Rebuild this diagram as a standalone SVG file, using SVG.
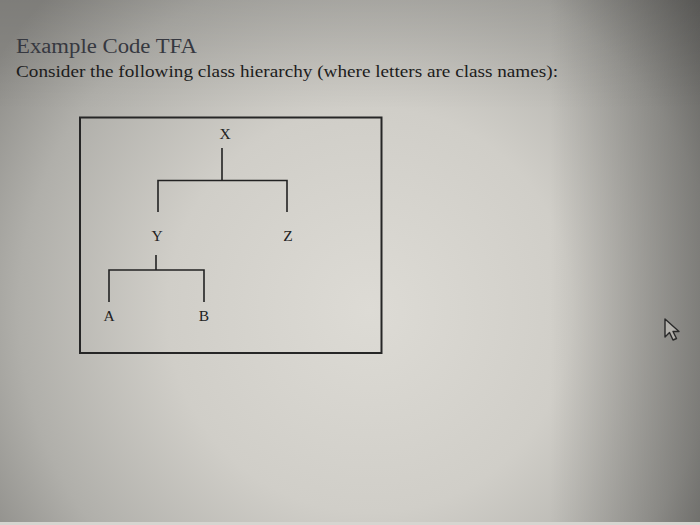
<svg xmlns="http://www.w3.org/2000/svg" width="700" height="525" viewBox="0 0 700 525">
  <defs>
    <radialGradient id="bg" gradientUnits="userSpaceOnUse" cx="370" cy="310" r="450">
      <stop offset="0" stop-color="#dddbd5"/>
      <stop offset="0.45" stop-color="#d0cec8"/>
      <stop offset="0.78" stop-color="#b0afaa"/>
      <stop offset="1" stop-color="#8c8b87"/>
    </radialGradient>
    <linearGradient id="right" gradientUnits="userSpaceOnUse" x1="550" y1="0" x2="700" y2="0">
      <stop offset="0" stop-color="#000" stop-opacity="0"/>
      <stop offset="1" stop-color="#000" stop-opacity="0.3"/>
    </linearGradient>
    <linearGradient id="top" gradientUnits="userSpaceOnUse" x1="0" y1="0" x2="0" y2="110">
      <stop offset="0" stop-color="#000" stop-opacity="0.1"/>
      <stop offset="1" stop-color="#000" stop-opacity="0"/>
    </linearGradient>
    <style>
      .title { font-family: "Liberation Serif", "DejaVu Serif", serif; font-size: 20px; fill: #363840; }
      .sub { font-family: "Liberation Serif", "Times New Roman", serif; font-size: 16.5px; fill: #1c1c1c; }
      .lbl { font-family: "Liberation Serif", "Times New Roman", serif; font-size: 15.5px; fill: #222; text-anchor: middle; }
      .edge { fill: none; stroke: #222; stroke-width: 1.6; }
      .frame { fill: none; stroke: #262626; stroke-width: 2; }
    </style>
  </defs>

  <rect x="0" y="0" width="700" height="525" fill="url(#bg)"/>
  <rect x="0" y="0" width="700" height="525" fill="url(#right)"/>
  <rect x="0" y="0" width="700" height="525" fill="url(#top)"/>
  <rect x="0" y="522" width="700" height="3" fill="#d6d5d0"/>

  <g id="heading">
    <text class="title" x="16" y="53" textLength="181" lengthAdjust="spacingAndGlyphs">Example Code TFA</text>
    <text class="sub" x="16" y="77" textLength="542" lengthAdjust="spacingAndGlyphs">Consider the following class hierarchy (where letters are class names):</text>
  </g>

  <rect id="frame" class="frame" x="80" y="117.5" width="301.5" height="235.5"/>

  <g id="connectors">
    <path class="edge" d="M222,148 V180.5 M158,212 V180.5 H287 V212"/>
    <path class="edge" d="M156,255 V270 M109,302 V270 H204 V302"/>
  </g>

  <g id="node-X"><text class="lbl" x="225" y="139">X</text></g>
  <g id="node-Y"><text class="lbl" x="157" y="241">Y</text></g>
  <g id="node-Z"><text class="lbl" x="288" y="241">Z</text></g>
  <g id="node-A"><text class="lbl" x="109" y="321">A</text></g>
  <g id="node-B"><text class="lbl" x="204" y="321">B</text></g>

  <path id="cursor" d="M665,319 L665,337 L669.5,332.5 L673,340 L676.5,338.5 L673,331.5 L679,331.5 Z" fill="#b3b1ac" stroke="#2a2a2a" stroke-width="1.4" stroke-linejoin="round"/>
</svg>
